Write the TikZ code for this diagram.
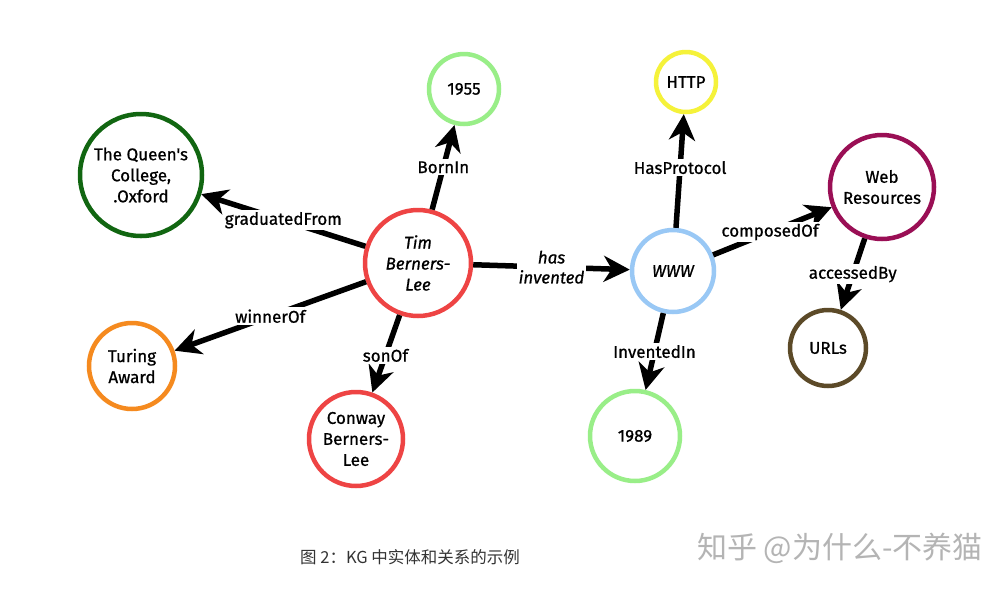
\documentclass[tikz,border=0pt]{standalone}
\usepackage{fontspec}
\setmainfont{Fira Sans}
\newfontfamily\labfont{Fira Sans}[FakeBold=0.8]
\newfontfamily\cjk{Noto Sans CJK SC}
\usetikzlibrary{arrows.meta}
\definecolor{timred}{HTML}{EE4444}
\definecolor{lgreen}{HTML}{99EE88}
\definecolor{dgreen}{HTML}{116611}
\definecolor{orng}{HTML}{F58A1F}
\definecolor{lblue}{HTML}{99C8F5}
\definecolor{yell}{HTML}{F5F23A}
\definecolor{maroon}{HTML}{9A0F55}
\definecolor{brwn}{HTML}{5C4A28}
\definecolor{wmgray}{HTML}{B4B4B4}
\tikzset{
  ent/.style={circle, draw, line width=4.5pt, fill=white, minimum size=#1,
    inner sep=0pt, align=center, font=\labfont\fontsize{17}{21}\selectfont},
  rel/.style={line width=5.5pt, -{Stealth[length=26pt,width=26pt,inset=8pt]}},
  lab/.style={fill=white, inner sep=2pt, align=center,
    font=\labfont\fontsize{17}{20}\selectfont}
}
\begin{document}
\begin{tikzpicture}[x=1pt,y=-1pt]
\useasboundingbox[fill=white] (0,0) rectangle (1007,590);
\node[ent=106pt, draw=timred] (tim) at (418,263) {\itshape Tim\\\itshape Berners-\\\itshape Lee};
\node[ent=70pt, draw=lgreen] (y55) at (464,89) {1955};
\node[ent=122pt, draw=dgreen] (qc) at (141,175) {The Queen's\\College,\\.Oxford};
\node[ent=86pt, draw=orng] (ta) at (132,366) {Turing\\Award};
\node[ent=94pt, draw=timred] (cbl) at (356,439) {Conway\\Berners-\\Lee};
\node[ent=82pt, draw=lblue] (www) at (673,271) {\itshape WWW};
\node[ent=60pt, draw=yell] (http) at (686,82) {HTTP};
\node[ent=104pt, draw=maroon] (wr) at (882,187) {Web\\Resources};
\node[ent=76pt, draw=brwn] (url) at (828,348) {URLs};
\node[ent=90pt, draw=lgreen] (y89) at (635,436) {1989};

\draw[rel] (tim) -- node[lab, pos=0.5] (l1) {BornIn} (y55);
\draw[rel] (tim) -- node[lab, pos=0.5] (l2) {graduatedFrom} (qc);
\draw[rel] (tim) -- node[lab, pos=0.5] (l3) {winnerOf} (ta);
\draw[rel] (tim) -- node[lab, pos=0.52] (l4) {sonOf} (cbl);
\draw[rel] (tim) -- node[lab, pos=0.5] (l5) {\itshape has\\\itshape invented} (www);
\draw[rel] (www) -- node[lab, pos=0.53] (l6) {HasProtocol} (http);
\draw[rel] (www) -- node[lab, pos=0.48] (l7) {composedOf} (wr);
\draw[rel] (wr) -- node[lab, pos=0.5] (l8) {accessedBy} (url);
\draw[rel] (www) -- node[lab, pos=0.5] (l9) {InventedIn} (y89);

\node[font=\cjk\fontsize{16.5}{18}\selectfont, text=black!80] (cap) at (410,557) {图 2：KG 中实体和关系的示例};
\node[font=\cjk\fontsize{30}{32}\selectfont, text=wmgray] (wm) at (840,548) {知乎 @为什么-不养猫};
\end{tikzpicture}
\end{document}
